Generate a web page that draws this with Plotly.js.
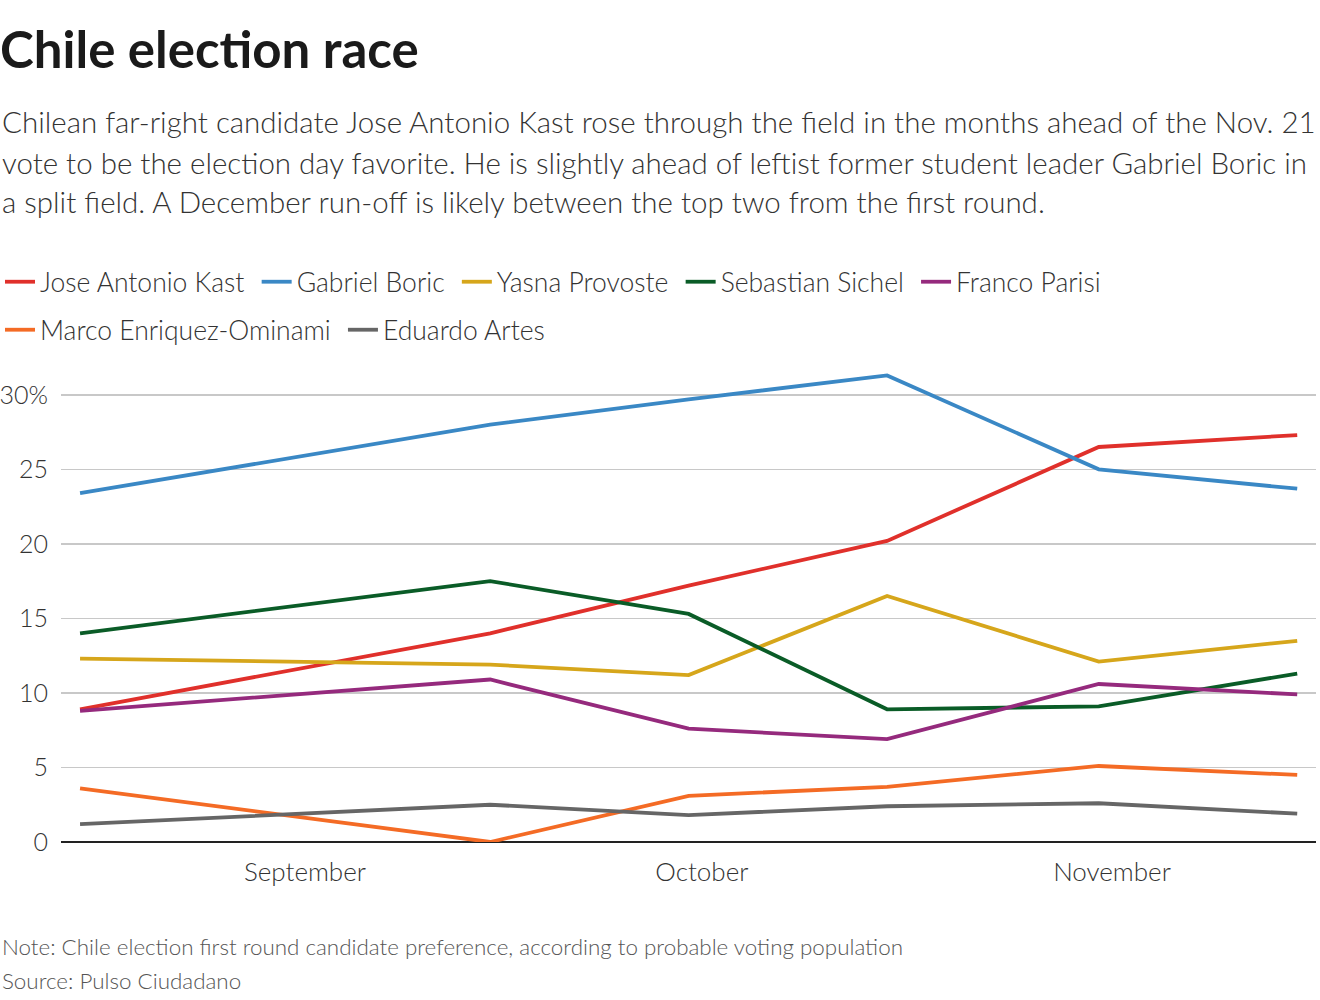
<!DOCTYPE html>
<html>
<head>
<meta charset="utf-8">
<script src="https://cdn.plot.ly/plotly-3.0.1.min.js"></script>
<style>
  body { margin: 0; background: #fff; }
  #chart { width: 1320px; height: 1000px; }
</style>
</head>
<body>
<div id="chart"></div>
<script>
// poll dates (Pulso Ciudadano, 2021)
var dates = ["2021-08-15", "2021-09-15", "2021-09-30", "2021-10-15", "2021-10-31", "2021-11-15"]

var kast     = [8.9, 14.0, 17.2, 20.2, 26.5, 27.3]
var boric    = [23.4, 28.0, 29.7, 31.3, 25.0, 23.7]
var provoste = [12.3, 11.9, 11.2, 16.5, 12.1, 13.5]
var sichel   = [14.0, 17.5, 15.3, 8.9, 9.1, 11.3]
var parisi   = [8.8, 10.9, 7.6, 6.9, 10.6, 9.9]
var meo      = [3.6, 0.0, 3.1, 3.7, 5.1, 4.5]
var artes    = [1.2, 2.5, 1.8, 2.4, 2.6, 1.9]

var monthTicks = ["2021-09-01", "2021-10-01", "2021-11-01"]
var monthLabels = ["September", "October", "November"]
var yTicks = [0, 5, 10, 15, 20, 25, 30]
var yLabels = ["0", "5", "10", "15", "20", "25", "30%"]

var FONT = "Lato, 'Source Sans Pro', sans-serif"
var NB = "\u00a0"  // a bit of extra room after each legend entry

function series(name, y, color, legend) {
    return {
        x: dates,
        y: y,
        name: name + NB,
        type: 'scatter',
        mode: 'lines',
        line: {color: color, width: 3.8},
        legend: legend,
        hoverinfo: 'skip'
    }
}

var traces = [
    series("Jose Antonio Kast", kast, "#e0302b", "legend"),
    series("Gabriel Boric", boric, "#3a88c5", "legend"),
    series("Yasna Provoste", provoste, "#d6a61b", "legend"),
    series("Sebastian Sichel", sichel, "#0a5c27", "legend"),
    series("Franco Parisi", parisi, "#952a7d", "legend"),
    series("Marco Enriquez-Ominami", meo, "#f46b25", "legend2"),
    series("Eduardo Artes", artes, "#666666", "legend2")
]

var legendBase = {
    orientation: 'h',
    xref: 'container', yref: 'container',
    x: 0, xanchor: 'left', yanchor: 'middle',
    font: {family: FONT, size: 26.5, color: '#333', weight: 300},
    bgcolor: 'rgba(0,0,0,0)',
    itemwidth: 30,
    traceorder: 'normal'
}

var subtitle = [
    "Chilean far-right candidate Jose Antonio Kast rose through the field in the months ahead of the Nov. 21",
    "vote to be the election day favorite. He is slightly ahead of leftist former student leader Gabriel Boric in",
    "a split field. A December run-off is likely between the top two from the first round."
]

var L = 61, R = 4, T = 365, B = 158
// pixel -> paper coords
function px(pix) { return (pix - L) / (1320 - L - R) }
function py(pix) { return (1000 - B - pix) / (1000 - B - T) }

function textLine(text, y, size, color) {
    return {
        text: text, xref: 'paper', yref: 'paper',
        x: px(0), y: py(y), xanchor: 'left', yanchor: 'middle',
        showarrow: false,
        font: {family: FONT, size: size, color: color, weight: 300}
    }
}

var annotations = []
subtitle.forEach(function(t, i) {
    annotations.push(textLine(t, 122 + i * 40, 29.5, '#333'))
})
annotations.push(textLine("Note: Chile election first round candidate preference, according to probable voting population", 946, 22.4, '#555'))
annotations.push(textLine("Source: Pulso Ciudadano", 980, 22.4, '#555'))

var layout = {
    width: 1320,
    height: 1000,
    margin: {l: L, r: R, t: T, b: B},
    paper_bgcolor: '#fff',
    plot_bgcolor: '#fff',
    showlegend: true,
    title: {
        text: "<b>Chile election race</b>",
        font: {family: FONT, size: 51, color: '#1a1a1a'},
        xref: 'container', x: 0, xanchor: 'left',
        yref: 'container', y: 1 - 50 / 1000, yanchor: 'middle'
    },
    legend: Object.assign({}, legendBase, {y: 1 - 282 / 1000}),
    legend2: Object.assign({}, legendBase, {y: 1 - 330 / 1000}),
    xaxis: {
        type: 'date',
        range: ["2021-08-13 13:26", "2021-11-16 10:05"],
        tickvals: monthTicks,
        ticktext: monthLabels,
        showgrid: false,
        zeroline: false,
        showline: false,
        ticks: '',
        ticklabelstandoff: 12,
        tickfont: {family: FONT, size: 26, color: '#333', weight: 300},
        fixedrange: true
    },
    yaxis: {
        range: [0, 32],
        tickvals: yTicks,
        ticktext: yLabels,
        showgrid: true,
        gridcolor: '#c8c8c8',
        gridwidth: 1.5,
        zeroline: true,
        zerolinecolor: '#222',
        zerolinewidth: 2,
        showline: false,
        ticks: '',
        ticklabelstandoff: 12,
        tickfont: {family: FONT, size: 25, color: '#333', weight: 300},
        fixedrange: true
    },
    annotations: annotations
}

Plotly.newPlot('chart', traces, layout, {displayModeBar: false, staticPlot: true})
</script>
</body>
</html>
